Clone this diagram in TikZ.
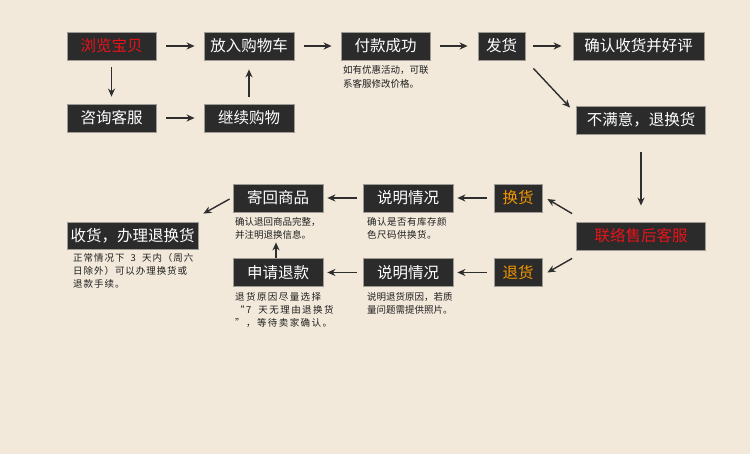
\documentclass[tikz,border=0pt]{standalone}
\usepackage{fontspec}
\setmainfont{Noto Sans CJK SC}
\usetikzlibrary{arrows.meta}
\definecolor{bg}{HTML}{F2E9DB}
\definecolor{boxfill}{HTML}{2B2B2B}
\definecolor{boxline}{HTML}{9E9A94}
\definecolor{arrowc}{HTML}{2E2E2E}
\definecolor{notec}{HTML}{1E1E1E}
\definecolor{redt}{HTML}{E8141B}
\definecolor{oranget}{HTML}{F29600}
\begin{document}
\begin{tikzpicture}[x=1pt,y=-1pt,
  box/.style={draw=boxline, fill=boxfill, line width=0.8pt, text=white,
    font=\fontsize{15.5}{18}\selectfont, inner sep=0pt, minimum height=28pt},
  arr/.style={draw=arrowc, line width=1.4pt, -{Stealth[length=8pt,width=7pt,inset=2.5pt]}},
  note/.style={anchor=north west, inner sep=0pt, align=left, text=notec,
    font=\fontsize{9.5}{13}\selectfont},
  notesp/.style={note, font={\fontsize{9.5}{13}\selectfont\addfontfeature{LetterSpace=#1}}}]
\fill[bg] (0,0) rectangle (750,454);
\useasboundingbox (0,0) rectangle (750,454);

% row 1
\node[box, minimum width=89pt, text=redt] (llbb) at (111.5,46) {浏览宝贝};
\node[box, minimum width=90pt] (frgwc) at (249,46) {放入购物车};
\node[box, minimum width=89pt] (fkcg) at (385.5,46) {付款成功};
\node[box, minimum width=47pt] (fh) at (501.5,46) {发货};
\node[box, minimum width=131pt] (qrsh) at (638.5,46) {确认收货并好评};
% row 2
\node[box, minimum width=89pt] (zxkf) at (111.5,118) {咨询客服};
\node[box, minimum width=90pt] (jxgw) at (249,118) {继续购物};
\node[box, minimum width=129pt] (bmy) at (641,120) {不满意，退换货};
% after-sale
\node[box, minimum width=129pt, text=redt] (llsh) at (641,236) {联络售后客服};
\node[box, minimum width=48pt, text=oranget] (hh) at (518,198) {换货};
\node[box, minimum width=48pt, text=oranget] (th) at (518,272.5) {退货};
\node[box, minimum width=90pt] (smqk1) at (408,198) {说明情况};
\node[box, minimum width=90pt] (jhsp) at (278,198) {寄回商品};
\node[box, minimum width=90pt] (smqk2) at (408,272.5) {说明情况};
\node[box, minimum width=90pt] (sqtk) at (278,272.5) {申请退款};
\node[box, minimum width=131pt, minimum height=27pt] (shbl) at (132.5,235.5) {收货，办理退换货};

% notes
\node[note, font=\fontsize{9.5}{14}\selectfont] (n1) at (343,65) {如有优惠活动，可联\\系客服修改价格。};
\node[note] (n2) at (235,217) {确认退回商品完整，\\并注明退换信息。};
\node[notesp=5] (n3) at (367,217) {确认是否有库存颜\\色尺码供换货。};
\node[notesp=10] (n4) at (73,253) {正常情况下\ \ 3\ \ 天内（周六\\日除外）可以办理换货或\\退款手续。};
\node[notesp=15] (n5) at (235,292) {退货原因尽量选择\\“7\ \ 天无理由退换货\\”，等待卖家确认。};
\node[note] (n6) at (367,292) {说明退货原因，若质\\量问题需提供照片。};

% arrows
\draw[arr, shorten <=10pt, shorten >=9pt] (llbb.east) -- (frgwc.west);
\draw[arr, shorten <=7pt, shorten >=7pt] (llbb.south) -- (zxkf.north);
\draw[arr, shorten <=10pt, shorten >=9pt] (zxkf.east) -- (jxgw.west);
\draw[arr, shorten <=7pt, shorten >=9pt] (jxgw.north) -- (frgwc.south);
\draw[arr, shorten <=10pt, shorten >=9pt] (frgwc.east) -- (fkcg.west);
\draw[arr, shorten <=10pt, shorten >=10pt] (fkcg.east) -- (fh.west);
\draw[arr, shorten <=8pt, shorten >=11pt] (fh.east) -- (qrsh.west);
\draw[arr] ([shift={(8,8)}]fh.south east) -- ([shift={(-6,2)}]bmy.north west);
\draw[arr, shorten <=18pt, shorten >=16pt] (bmy.south) -- (llsh.north);
\draw[arr] ([shift={(-4,-8)}]llsh.north west) -- ([shift={(5,1)}]hh.east);
\draw[arr] ([shift={(-4,8)}]llsh.south west) -- ([shift={(5,0)}]th.east);
\draw[arr, shorten <=7pt, shorten >=4pt] (hh.west) -- (smqk1.east);
\draw[arr, shorten <=6pt, shorten >=4pt] (smqk1.west) -- (jhsp.east);
\draw[arr] ([shift={(-3,1)}]jhsp.west) -- ([shift={(5,-8)}]shbl.north east);
\draw[arr, shorten <=7pt, shorten >=4pt] (th.west) -- (smqk2.east);
\draw[arr, shorten <=6pt, shorten >=4pt] (smqk2.west) -- (sqtk.east);
\draw[arr, shorten >=30pt] ([xshift=-2pt]sqtk.north) -- ([xshift=-2pt]jhsp.south);
\end{tikzpicture}
\end{document}
